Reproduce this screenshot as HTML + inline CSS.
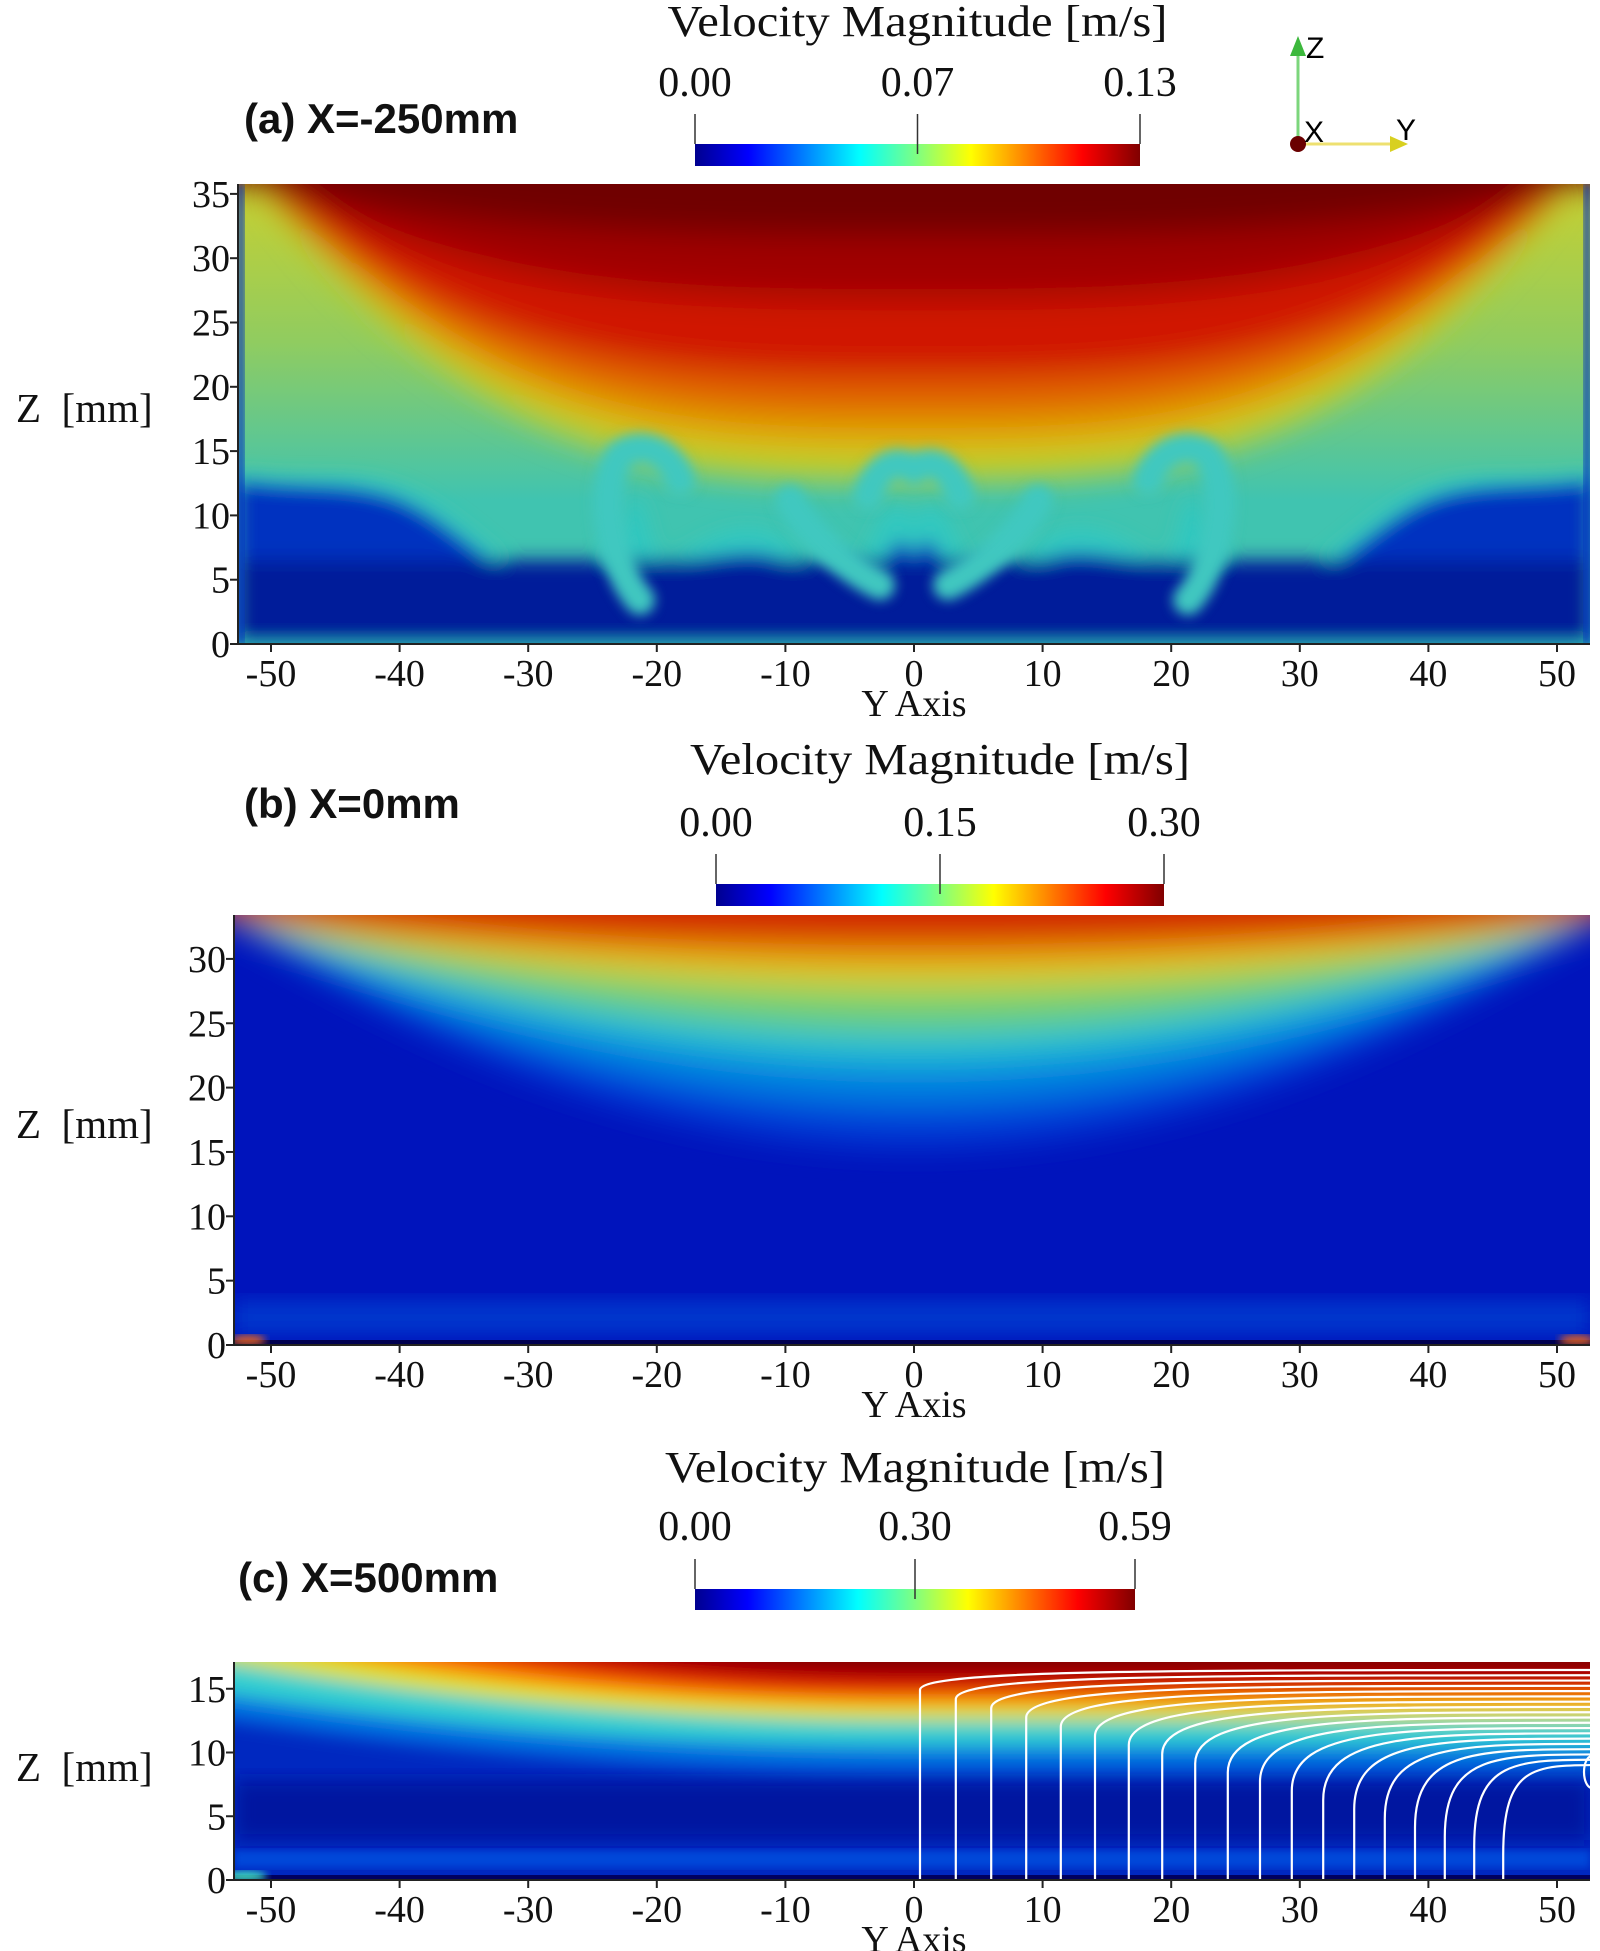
<!DOCTYPE html>
<html><head><meta charset="utf-8"><style>
html,body{margin:0;padding:0;background:#fff;}
svg{display:block;}
.t{font-family:"Liberation Serif",serif;fill:#111;}
.p{font-family:"Liberation Sans Narrow","Liberation Sans",sans-serif;font-weight:bold;fill:#111;}
</style></head><body>
<svg id="s" xmlns="http://www.w3.org/2000/svg" width="1600" height="1951" viewBox="0 0 1600 1951">
<defs>
<linearGradient id="jet" x1="0" x2="1" y1="0" y2="0">
<stop offset="0" stop-color="#00008f"/><stop offset="0.12" stop-color="#0000ff"/><stop offset="0.37" stop-color="#00ffff"/><stop offset="0.5" stop-color="#80ff80"/><stop offset="0.62" stop-color="#ffff00"/><stop offset="0.87" stop-color="#ff0000"/><stop offset="1" stop-color="#800000"/>
</linearGradient>
<linearGradient id="abase" x1="0" x2="0" y1="184" y2="500" gradientUnits="userSpaceOnUse">
<stop offset="0" stop-color="#c8d030"/><stop offset="0.5" stop-color="#90cc60"/><stop offset="1" stop-color="#40c4b0"/>
</linearGradient>
<filter id="bl" x="-5%" y="-20%" width="110%" height="140%"><feGaussianBlur stdDeviation="9"/></filter>
<filter id="bb" x="-5%" y="-20%" width="110%" height="140%"><feGaussianBlur stdDeviation="16"/></filter>
<filter id="bl2"><feGaussianBlur stdDeviation="4"/></filter>
<filter id="bl3" x="-20%" y="-20%" width="140%" height="140%"><feGaussianBlur stdDeviation="6"/></filter>
<clipPath id="ca"><rect x="238" y="184" width="1352" height="460"/></clipPath>
<clipPath id="cb"><rect x="234" y="915" width="1356" height="430"/></clipPath>
<clipPath id="cc"><rect x="234" y="1662" width="1356" height="218"/></clipPath>
</defs>

<!-- Panel a field -->
<g clip-path="url(#ca)">
<rect x="238" y="184" width="1352" height="460" fill="url(#abase)"/>
<g id="ba" filter="url(#bb)"></g>
<g filter="url(#bl)">
<path transform="translate(0 12)" d="M238 460 C300 470 340 460 380 470 C430 480 470 520 520 560 C560 590 600 560 620 520 C630 480 640 470 650 520 C660 560 680 540 700 530 C720 520 760 500 800 540 C830 570 850 560 870 530 C880 500 900 480 914 510 C928 480 948 500 958 530 C978 560 998 570 1028 540 C1068 500 1108 520 1128 530 C1148 540 1168 560 1178 520 C1188 470 1198 480 1208 520 C1228 560 1268 590 1308 560 C1358 520 1398 480 1448 470 C1488 460 1528 470 1590 460 L1590 644 L238 644 Z" fill="#30c8c0"/>
<path d="M238 480 C300 490 350 480 400 500 C450 520 500 580 560 600 C600 610 620 600 640 600 C650 580 660 560 680 560 C720 560 760 540 800 570 C830 595 860 600 880 570 C895 540 905 530 914 560 C923 530 933 540 948 570 C968 600 998 595 1028 570 C1068 540 1108 560 1148 560 C1168 560 1178 580 1188 600 C1208 600 1228 610 1268 600 C1328 580 1378 520 1428 500 C1478 480 1528 490 1590 480 L1590 644 L238 644 Z" fill="#0030c0"/>
<path d="M238 560 L1590 560 L1590 644 L238 644 Z" fill="#001a9a"/>
</g>
<g id="tend" fill="none" stroke="#40c8c0" stroke-width="30" stroke-linecap="round" filter="url(#bl3)"></g>
<rect x="238" y="184" width="6" height="460" fill="#0030c0" filter="url(#bl2)"/>
<rect x="1584" y="184" width="6" height="460" fill="#0030c0" filter="url(#bl2)"/>
</g>
<!-- Panel b field -->
<g clip-path="url(#cb)">
<rect x="234" y="915" width="1356" height="430" fill="#0014bc"/>
<rect x="234" y="1300" width="1356" height="35" fill="#0034cc" filter="url(#bl)"/>
<g id="bbnd" filter="url(#bb)"></g>
<rect x="234" y="1340" width="1356" height="5" fill="#000050"/>
<ellipse cx="248" cy="1340" rx="18" ry="5" fill="#e06020" filter="url(#bl2)"/>
<ellipse cx="1577" cy="1340" rx="18" ry="5" fill="#e06020" filter="url(#bl2)"/>
</g>
<!-- Panel c field -->
<g clip-path="url(#cc)">
<rect x="234" y="1662" width="1356" height="218" fill="#0028c0"/>
<rect x="234" y="1780" width="1356" height="60" fill="#0018a0" filter="url(#bl)"/>
<rect x="234" y="1850" width="1356" height="18" fill="#0050e0" opacity="0.8" filter="url(#bl2)"/>
<g id="bc" filter="url(#bl)"></g>
<rect x="234" y="1875" width="1356" height="5" fill="#000060"/>
<ellipse cx="245" cy="1876" rx="22" ry="5" fill="#40e0c0" filter="url(#bl2)"/>
<g id="sl" fill="none" stroke="#fff" stroke-width="2.2"></g>
</g>

<g id="ax"></g>
</svg>
<script>
var s=document.getElementById('ax'),NS='http://www.w3.org/2000/svg';
function el(t,a,txt,par){var e=document.createElementNS(NS,t);for(var k in a)e.setAttribute(k,a[k]);if(txt!=null)e.textContent=txt;(par||s).appendChild(e);return e;}
function band(par,top,fn,col){var d='M200 '+(top-60);for(var x=200;x<=1630;x+=10){d+=' L'+x+' '+fn(x);}d+=' L1630 '+(top-60)+' Z';el('path',{d:d,fill:col},null,par);}
var ga=document.getElementById('ba');
[[23,'#c8d028'],[20.5,'#e0a000'],[18,'#e06000'],[15,'#d01800'],[9,'#a00000'],[4,'#700000']].forEach(function(b){
 band(ga,184,function(x){var u=Math.min(1,Math.abs(x-914)/650);return 184+b[0]*12.86*(1-Math.pow(u,3));},b[1]);});
var te=document.getElementById('tend');
['M640 600 C605 560 600 480 620 455 C640 440 670 450 680 480','M880 585 C840 565 805 530 790 500','M914 470 C895 455 875 470 868 495'].forEach(function(d){
 el('path',{d:d},null,te);
 el('path',{d:d,transform:'translate(1828 0) scale(-1 1)'},null,te);});
var gb=document.getElementById('bbnd');
[[230,'#0040d8'],[190,'#0080e0'],[150,'#20c0d0'],[115,'#70d070'],[75,'#d8d020'],[48,'#e88000'],[25,'#d02000']].forEach(function(b){
 band(gb,915,function(x){var u=Math.min(1,Math.abs(x-914)/690);return 915+b[0]*(1-u*u);},b[1]);});
var gc=document.getElementById('bc');
[[8.5,12.5,'#0070e0'],[10.5,14.5,'#30d0d0'],[12.5,17,'#e0e020'],[13.8,19,'#ff7000'],[14.8,21,'#d00000'],[16.2,23,'#800000']].forEach(function(b){
 band(gc,1662,function(x){var t=x<914?Math.pow((914-x)/680,2):0;var z=b[0]+(b[1]-b[0])*t;return 1880-z*12.75;},b[2]);});
function panel(o){
 o.zt.forEach(function(z){var y=o.y0-(z*o.zs);el('line',{x1:o.x0-8,x2:o.x0,y1:y,y2:y,stroke:'#222','stroke-width':2});
  el('text',{x:o.x0-8,y:y+13,'text-anchor':'end','font-size':38,'class':'t'},String(z));});
 for(var v=-50;v<=50;v+=10){var x=914+v*12.86;el('line',{x1:x,x2:x,y1:o.y0,y2:o.y0+8,stroke:'#222','stroke-width':2});
  el('text',{x:x,y:o.y0+42,'text-anchor':'middle','font-size':38,'class':'t'},String(v));}
 el('line',{x1:o.x0,x2:1590,y1:o.y0,y2:o.y0,stroke:'#222','stroke-width':2});
 el('line',{x1:o.x0,x2:o.x0,y1:o.ytop,y2:o.y0,stroke:'#222','stroke-width':2});
 el('text',{x:914,y:o.y0+72,'text-anchor':'middle','font-size':38,'class':'t'},'Y Axis');
 el('text',{x:16,y:o.zl,'font-size':41,'class':'t'},'Z\u00a0\u00a0[mm]');
 el('rect',{x:o.cb[0],y:o.cb[1],width:o.cb[2]-o.cb[0],height:o.cb[3]-o.cb[1],fill:'url(#jet)'});
 var cx=[o.cb[0],(o.cb[0]+o.cb[2])/2,o.cb[2]];
 cx.forEach(function(x,i){el('line',{x1:x,x2:x,y1:o.cb[1]-30,y2:o.cb[1]+(i==1?10:0),stroke:'#333','stroke-width':1.5});
  el('text',{x:x,y:o.lab,'text-anchor':'middle','font-size':42,'class':'t'},o.vals[i]);});
 el('text',{x:cx[1],y:o.tit,'text-anchor':'middle','font-size':44,'class':'t',textLength:500,lengthAdjust:'spacingAndGlyphs'},'Velocity Magnitude [m/s]');
 el('text',{x:o.px,y:o.py,'font-size':42,'class':'p'},o.name);
}
panel({x0:238,y0:644,ytop:184,zs:12.86,zt:[0,5,10,15,20,25,30,35],zl:422,cb:[695,144,1140,166],vals:['0.00','0.07','0.13'],lab:96,tit:36,name:'(a) X=-250mm',px:244,py:133});
panel({x0:234,y0:1345,ytop:915,zs:12.87,zt:[0,5,10,15,20,25,30],zl:1138,cb:[716,884,1164,906],vals:['0.00','0.15','0.30'],lab:836,tit:774,name:'(b) X=0mm',px:244,py:818});
panel({x0:234,y0:1880,ytop:1662,zs:12.75,zt:[0,5,10,15],zl:1781,cb:[695,1589,1135,1610],vals:['0.00','0.30','0.59'],lab:1540,tit:1482,name:'(c) X=500mm',px:238,py:1592});
var g=document.getElementById('sl');
for(var i=0;i<19;i++){var t=i/18;var x=920+36*i-0.2*i*i;var ye=1670+95*t,ya=ye+20+70*t,c=(1590-x)*0.35;
 var d='M'+x+' 1880 L'+x+' '+ya+' C'+x+' '+ye+' '+(x+c)+' '+ye+' 1600 '+ye;
 el('path',{d:d},null,g);}
el('ellipse',{cx:1592,cy:1772,rx:8,ry:16},null,g);
el('line',{x1:1298,x2:1298,y1:144,y2:46,stroke:'#7cd67c','stroke-width':3});
el('path',{d:'M1290 56 L1298 36 L1306 56 Z',fill:'#3cb83c'});
el('line',{x1:1298,x2:1400,y1:144,y2:144,stroke:'#eee070','stroke-width':3});
el('path',{d:'M1390 136 L1408 144 L1390 152 Z',fill:'#d8d020'});
el('circle',{cx:1298,cy:144,r:8,fill:'#6a0000'});
el('text',{x:1306,y:58,'font-size':30,'font-family':'Liberation Sans,sans-serif'},'Z');
el('text',{x:1304,y:142,'font-size':30,'font-family':'Liberation Sans,sans-serif'},'X');
el('text',{x:1396,y:140,'font-size':30,'font-family':'Liberation Sans,sans-serif'},'Y');
</script>
</body></html>
